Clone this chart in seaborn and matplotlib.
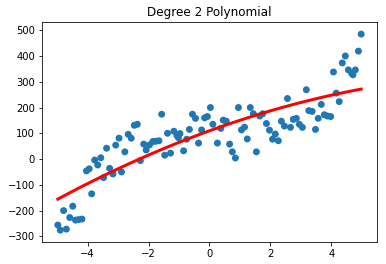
import numpy as np
import pandas as pd
import matplotlib
matplotlib.use("Agg")
import matplotlib.pyplot as plt
import seaborn as sns

x_vals = [-4.98, -4.90, -4.79, -4.70, -4.59, -4.49, -4.40, -4.30, -4.19, -4.04,
          -3.95, -3.87, -3.77, -3.67, -3.57, -3.48, -3.38, -3.28, -3.17, -3.08,
          -2.97, -2.89, -2.78, -2.67, -2.57, -2.47, -2.37, -2.27, -2.16, -2.08,
          -1.97, -1.86, -1.76, -1.66, -1.57, -1.47, -1.38, -1.28, -1.17, -1.07,
          -1.02, -0.97, -0.85, -0.75, -0.66, -0.56, -0.46, -0.36, -0.26, -0.16,
          -0.07, 0.03, 0.11, 0.26, 0.37, 0.45, 0.55, 0.66, 0.75, 0.85,
          0.95, 1.05, 1.15, 1.24, 1.34, 1.44, 1.54, 1.65, 1.75, 1.87,
          1.97, 2.07, 2.16, 2.26, 2.36, 2.46, 2.56, 2.66, 2.75, 2.85,
          2.95, 3.05, 3.18, 3.26, 3.37, 3.48, 3.57, 3.67, 3.77, 3.87,
          3.98, 4.07, 4.16, 4.26, 4.36, 4.46, 4.56, 4.67, 4.71, 4.79,
          4.89, 4.98]
y_vals = [-256, -276, -200, -272, -227, -183, -237, -235, -233, -46,
          -38, -135, -4, -23, 5, -72, 42, -36, -58, 54,
          81, -50, 28, 96, 81, 131, 135, -6, 58, 35,
          55, 68, 69, 71, 174, 15, 100, 23, 108, 91,
          83, 99, 32, 77, 115, 174, 158, 62, 113, 160,
          165, 200, 135, 62, 119, 151, 147, 58, 28, 4,
          200, 113, 124, 78, 200, 176, 28, 167, 176, 138,
          112, 77, 97, 71, 147, 128, 235, 123, 154, 158,
          135, 123, 269, 188, 185, 115, 158, 212, 172, 167,
          165, 338, 256, 223, 373, 400, 346, 333, 327, 346,
          419, 485]
title_text = "Degree 2 Polynomial"

df = pd.DataFrame({"x": x_vals, "y": y_vals})

plt.rcParams['font.family'] = ['DejaVu Sans']
fig = plt.figure(figsize=(386 / 72, 264 / 72), dpi=72)
ax = fig.add_axes([42 / 386, 1 - 242 / 264, 335 / 386, 220 / 264])

sns.scatterplot(data=df, x="x", y="y", ax=ax, color="#1f77b4", s=48,
                edgecolor="none", linewidth=0)
sns.regplot(data=df, x="x", y="y", order=2, ci=None, scatter=False, ax=ax,
            truncate=True, line_kws={"color": "red", "linewidth": 3})

ax.set_xlim(-5.5, 5.5)
ax.set_ylim(-322, 532)
ax.set_xticks([-4, -2, 0, 2, 4])
ax.set_yticks([-300, -200, -100, 0, 100, 200, 300, 400, 500])
ax.set_xlabel("")
ax.set_ylabel("")
ax.set_title(title_text, fontsize=12)
ax.tick_params(labelsize=10)

fig.savefig("out.png", dpi=72)
